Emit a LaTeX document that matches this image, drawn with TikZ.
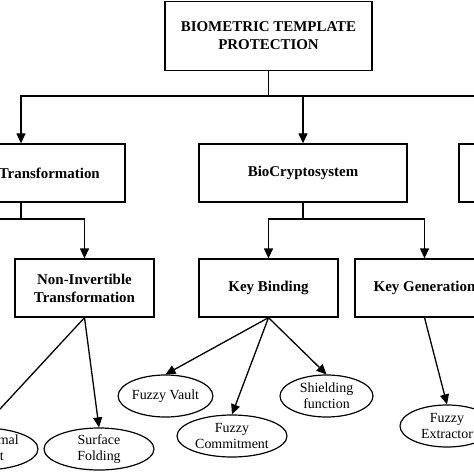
\documentclass[tikz,border=0pt]{standalone}
\usepackage{fontspec}
\setmainfont{Liberation Serif}
\usetikzlibrary{arrows.meta,shapes.geometric}
\begin{document}
\begin{tikzpicture}[x=1bp,y=-1bp,
 box/.style={draw, line width=1.3bp, rectangle, inner sep=0pt, minimum height=58bp, font=\bfseries\fontsize{15}{18}\selectfont, align=center},
 oval/.style={draw, line width=1.2bp, ellipse, inner sep=0pt, minimum height=42bp, font=\fontsize{14}{16.5}\selectfont, align=center},
 ovtext/.style={font=\fontsize{14}{16.5}\selectfont, inner sep=0pt, anchor=east},
 arr/.style={line width=1.3bp, -{Triangle[length=10bp,width=9bp]}},
 ln/.style={line width=1.3bp}]
\clip (0,0) rectangle (474,474);
% boxes
\node[box, minimum width=207bp, minimum height=69bp] (top) at (268.5,36) {BIOMETRIC TEMPLATE\\PROTECTION};
\node[box, minimum width=208bp] (ft) at (21,173) {};
\node[font=\bfseries\fontsize{15}{18}\selectfont, inner sep=0pt, anchor=east] (ftl) at (100,173) {Transformation};
\node[box, minimum width=208bp] (bc) at (303,173) {BioCryptosystem};
\node[box, minimum width=208bp] (rt) at (563,173) {};
\node[box, minimum width=139bp] (ni) at (84.5,288) {Non-Invertible\\Transformation};
\node[box, minimum width=139bp] (kb) at (268.5,288) {Key Binding};
\node[box, minimum width=139bp] (kg) at (424.5,288) {Key Generation};
% ovals
\node[oval, minimum width=110bp] (lo) at (-17,449) {};
\node[ovtext] (lot1) at (19,440) {mal};
\node[ovtext] (lot2) at (4,457) {t};
\node[oval, minimum width=110bp] (sf) at (99,449) {Surface\\Folding};
\node[oval, minimum width=93bp] (fv) at (165.5,396) {Fuzzy Vault};
\node[oval, minimum width=110bp] (fc) at (232,436) {Fuzzy\\Commitment};
\node[oval, minimum width=93bp] (sh) at (326.5,396) {Shielding\\function};
\node[oval, minimum width=94bp] (fe) at (447,426) {Fuzzy\\Extractor};
% connectors
\draw[ln] (top.south) -- (268.5,96) coordinate (j1);
\draw[arr] (j1) -| (ft.north);
\draw[arr] (j1) -| (bc.north);
\draw[arr] (j1) -| (rt.north);
\draw[ln] (ft.south) -- (21,219) coordinate (j2);
\draw[arr] (j2) -| (ni.north);
\draw[ln] (j2) -- ++(-60,0);
\draw[ln] (bc.south) -- (303,219) coordinate (j3);
\draw[arr] (j3) -| (kb.north);
\draw[arr] (j3) -| (kg.north);
\draw[arr] (ni.south) -- (lo.north);
\draw[arr] (ni.south) -- (sf.north);
\draw[arr] (kb.south) -- (fv.north);
\draw[arr] (kb.south) -- (fc.north);
\draw[arr] (kb.south) -- (sh.north);
\draw[arr] (kg.south) -- (fe.north);
\end{tikzpicture}
\end{document}
